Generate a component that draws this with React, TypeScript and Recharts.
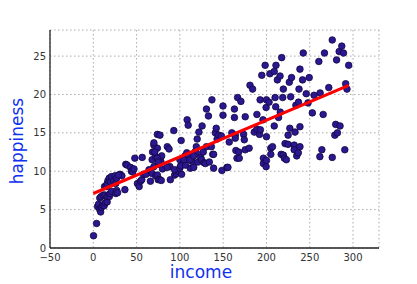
import { ScatterChart, Scatter, XAxis, YAxis, CartesianGrid, Label } from "recharts"

// income / happiness samples
const income = [
  0.3, 3.8, 5, 6, 7.5, 8.5, 9.5, 11, 12.5, 14, 16, 7.5, 9, 11.5, 13.5, 16, 18.5, 19.5, 21, 26, 27, 28, 13, 15, 16, 17, 18.5, 20, 21, 23.5, 25, 26, 27, 31, 33, 29,
  36.5, 37.5, 39, 43, 44, 45.5, 47, 48, 51, 53, 54.5, 56, 56.5, 58, 61, 64.4, 66, 68, 68, 68.5, 70, 70, 72, 72, 74, 74, 74, 77, 75, 77, 78.5, 76, 78, 79, 80, 70, 71, 74, 75,
  85.5, 87.5, 89, 93, 94, 96, 98, 100, 101.5, 102, 104, 106, 108, 110, 108.4, 109.6, 112, 114, 116, 118, 119, 119, 120, 122, 121, 124, 125.7, 125, 127, 128, 129.5, 130.7, 130.7, 133, 88.5, 85.4, 94, 100, 100.8, 106.5, 104.6, 112, 116,
  134, 136.4, 137, 138, 139, 139, 141, 142, 143, 145, 148, 148.6, 149.8, 149.8, 154.4, 155.5, 157, 160, 163, 163, 164, 164, 164.7, 166, 166.7, 168, 168.6, 170.5, 173.6, 174.4, 175.5, 175.5, 180,
  181, 184, 186, 189, 189, 192, 192.7, 193, 194.6, 196, 196.5, 196.5, 198.5, 199.6, 199.6, 200, 200, 200, 203, 204, 205, 205, 207, 209, 209, 210, 210.7, 211, 212.6, 214, 215.7, 216, 217.6, 217, 219.5, 218.8, 219.5, 220.7, 221.5, 223, 225, 225, 226.4, 227, 228, 229,
  232, 232, 233, 234, 235, 236.8, 237, 237.6, 238.7, 238.7, 238.7, 241.7, 242.5, 246, 248, 249.4, 253, 255, 260.5, 261.7, 262, 264, 265.5, 267, 272, 276, 276, 279, 280, 281, 282, 284, 285, 287, 289, 290.5, 291.5, 293, 295,
]

const happiness = [
  1.6, 3.2, 5.4, 5.7, 5.0, 4.7, 5.3, 5.6, 5.5, 5.9, 6.0, 6.5, 6.7, 6.9, 6.9, 6.7, 6.7, 7.1, 7.4, 7.1, 7.5, 7.2, 8.0, 8.0, 8.4, 8.8, 9.1, 8.6, 9.3, 8.7, 9.4, 8.4, 9.1, 9.6, 9.4, 9.5,
  7.6, 10.9, 10.8, 10.5, 10.0, 9.9, 10.3, 11.7, 8.4, 8.0, 8.7, 8.9, 11.8, 9.6, 9.6, 10.2, 8.7, 9.7, 11.5, 12.5, 10.6, 13.4, 11.9, 9.4, 13.0, 9.5, 14.8, 14.7, 8.9, 8.9, 8.8, 10.9, 11.3, 12.0, 10.3, 13.7, 12.5, 11.7, 11.2,
  13.2, 12.9, 8.9, 15.3, 9.5, 9.7, 10.0, 11.5, 14.0, 9.6, 11.0, 12.0, 12.4, 12.1, 16.7, 16.0, 10.4, 11.3, 10.5, 12.6, 13.2, 12.4, 14.2, 15.1, 11.2, 11.8, 15.9, 11.5, 12.5, 11.1, 11.0, 13.2, 18.1, 17.2, 10.6, 10.5, 10.2, 10.4, 10.7, 10.8, 11.5, 11.5, 12.0,
  11.2, 13.2, 19.3, 12.2, 12.2, 10.4, 15.0, 15.6, 14.2, 14.7, 14.6, 10.1, 18.5, 17.3, 10.5, 10.5, 13.8, 15.0, 18.1, 17.0, 14.7, 14.3, 12.7, 11.7, 19.6, 12.5, 11.7, 19.1, 14.8, 14.1, 17.1, 12.8, 13.0,
  21.2, 20.7, 15.1, 15.5, 17.4, 14.8, 19.3, 15.4, 22.5, 16.7, 11.7, 11.0, 23.8, 18.3, 10.6, 19.3, 14.5, 11.4, 19.0, 22.7, 13.0, 12.2, 13.2, 23.0, 15.9, 19.6, 18.4, 23.8, 21.9, 17.0, 22.4, 17.7, 24.8, 12.2, 20.7, 19.6, 12.1, 11.7, 13.6, 11.5, 13.5, 14.7, 21.6, 15.6, 19.7, 22.2,
  13.4, 12.8, 15.1, 18.6, 12.0, 12.4, 19.0, 20.7, 23.3, 15.8, 13.2, 21.9, 25.4, 20.1, 18.9, 22.2, 17.6, 19.9, 24.3, 11.9, 20.2, 12.8, 17.4, 25.4, 20.9, 27.1, 11.8, 14.7, 16.1, 24.5, 15.0, 25.6, 15.9, 26.3, 25.4, 12.8, 21.4, 20.7, 23.8,
]

// ends of the red fitted line
const fitIncome = [0, 295]
const fitHappiness = [7.1, 21.2]

const xTicks = [-50, 0, 50, 100, 150, 200, 250, 300]
const yTicks = [0, 5, 10, 15, 20, 25]

const points = income.map((x, i) => ({ x, y: happiness[i] }))
const fitLine = fitIncome.map((x, i) => ({ x, y: fitHappiness[i] }))

const font = "DejaVu Sans"
const minus = (v: number) => String(v).replace("-", "\u2212")

const Dot = (p: any) => (
  <circle cx={p.cx} cy={p.cy} r={3.3} fill="#2c1790" stroke="#120840" strokeWidth={0.8} />
)

export default function App() {
  return (
    <div style={{ position: "absolute", left: 0, top: 0, background: "#fff" }}>
      <ScatterChart width={417} height={284} margin={{ top: 30, right: 38, bottom: 0, left: 0 }}>
        <CartesianGrid stroke="#aaaaaa" strokeDasharray="1.5 2.5" />
        <XAxis
          type="number"
          dataKey="x"
          domain={[-50, 330]}
          ticks={xTicks}
          tickFormatter={minus}
          height={36}
          tickLine={false}
          tickSize={6}
          tickMargin={0}
          axisLine={{ stroke: "#222", strokeWidth: 1.3 }}
          tick={{ fill: "#333", fontSize: 10, fontFamily: font }}
        >
          <Label
            content={({ viewBox }: any) => (
              <text x={201} y={viewBox.y + 30} textAnchor="middle" fill="#1030f0" fontSize={17} fontFamily={font}>
                income
              </text>
            )}
          />
        </XAxis>
        <YAxis
          type="number"
          dataKey="y"
          domain={[0, 28.4]}
          ticks={yTicks}
          width={50}
          tickLine={false}
          tickSize={4}
          tickMargin={0}
          axisLine={{ stroke: "#222", strokeWidth: 1.3 }}
          tick={{ fill: "#333", fontSize: 10, fontFamily: font }}
        >
          <Label
            content={({ viewBox }: any) => {
              const cy = viewBox.y + viewBox.height / 2 + 2
              return (
                <text x={23} y={cy} transform={`rotate(-90 23 ${cy})`} textAnchor="middle" fill="#1030f0" fontSize={17} fontFamily={font}>
                  happiness
                </text>
              )
            }}
          />
        </YAxis>
        <Scatter data={points} shape={Dot} isAnimationActive={false} />
        <Scatter
          data={fitLine}
          line={{ stroke: "#ff0000", strokeWidth: 3 }}
          shape={() => <g />}
          isAnimationActive={false}
        />
      </ScatterChart>
    </div>
  )
}
